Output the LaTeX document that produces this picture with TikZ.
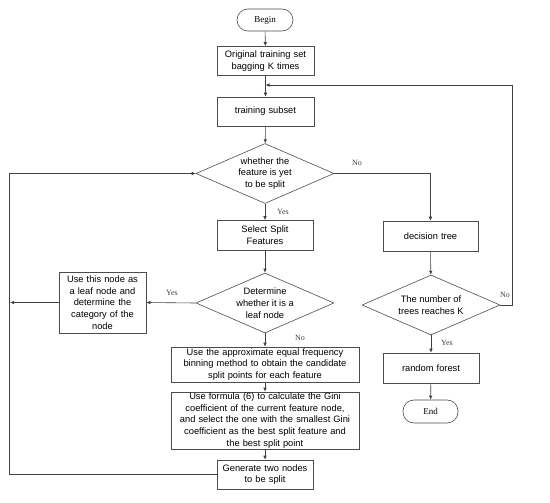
\documentclass[tikz,border=0pt]{standalone}
\usepackage{fontspec}
\setmainfont{Liberation Serif}
\setsansfont{Liberation Sans}
\usetikzlibrary{arrows.meta}
\usetikzlibrary{shapes}

\begin{document}
\begin{tikzpicture}[x=1pt, y=-1pt, semithick,
        box_style/.style={rectangle, draw=black!70, inner sep=0pt, align=center, font=\sffamily\fontsize{9.3}{11.7}\selectfont},
        term_style/.style={rectangle, draw=black!70, rounded corners=11pt, inner sep=0pt, font=\rmfamily\fontsize{9}{10}\selectfont},
        test_style/.style={diamond, draw=black!70, inner sep=0pt, aspect=2.3, minimum width=138pt, minimum height=60pt, align=center, font=\sffamily\fontsize{9.3}{11.7}\selectfont},
        label_style/.style={font=\rmfamily\fontsize{8}{9}\selectfont, text=black!75},
        edge_style/.style={draw=black!75, semithick, -{Latex[length=4pt,width=3.5pt]}}]

        \useasboundingbox (0,0) rectangle (550,503);

        \node [term_style, minimum width=56pt, minimum height=22pt](n_begin) at (265,20) {Begin};
        \node [box_style, text width=97pt, minimum height=29pt](n_orig) at (265.5,61) {Original training set\\bagging K times};
        \node [box_style, text width=97pt, minimum height=29pt](n_subset) at (265.5,111.5) {training subset};
        \node [test_style](n_split) at (265,173.5) {whether the\\feature is yet\\to be split};
        \node [box_style, text width=96pt, minimum height=30pt](n_select) at (265,235.5) {Select Split\\Features};
        \node [test_style](n_leaf_q) at (265,303) {Determine\\whether it is a\\leaf node};
        \node [box_style, text width=87pt, minimum height=61pt](n_leaf) at (102.5,302.5) {Use this node as\\a leaf node and\\determine the\\category of the\\node};
        \node [box_style, text width=188pt, minimum height=35pt](n_bin) at (265,364.5) {Use the approximate equal frequency\\binning method to obtain the candidate\\split points for each feature};
        \node [box_style, text width=188pt, minimum height=57pt](n_gini) at (265,420.5) {Use formula (6) to calculate the Gini\\coefficient of the current feature node,\\and select the one with the smallest Gini\\coefficient as the best split feature and\\the best split point};
        \node [box_style, text width=96pt, minimum height=29pt](n_gen) at (265,474.5) {Generate two nodes\\to be split};
        \node [box_style, text width=95pt, minimum height=30pt](n_tree) at (430.5,236) {decision tree};
        \node [test_style](n_count) at (431,305) {The number of\\trees reaches K};
        \node [box_style, text width=96pt, minimum height=30pt](n_forest) at (431,368) {random forest};
        \node [term_style, minimum width=55pt, minimum height=23pt](n_end) at (430.5,411.5) {End};

        \coordinate (k_join) at (265.5,85);
        \coordinate (r_corner) at (512,85);
        \coordinate (l_corner) at (9,173.5);
        \coordinate (l_join) at (10,302.5);

        \node [label_style](t_no1) at (357,163) {No};
        \node [label_style](t_yes1) at (283,212) {Yes};
        \node [label_style](t_yes2) at (172,293) {Yes};
        \node [label_style](t_no2) at (300,338) {No};
        \node [label_style](t_no3) at (505,295) {No};
        \node [label_style](t_yes3) at (447,343) {Yes};

        \draw [edge_style] (n_begin) -- (n_orig);
        \draw [edge_style] (n_orig) -- (n_subset);
        \draw [edge_style] (n_subset) -- (n_split);
        \draw [edge_style] (n_split) -- (n_select);
        \draw [edge_style] (n_split.east) -| (n_tree.north);
        \draw [edge_style] (n_select) -- (n_leaf_q);
        \draw [edge_style] (n_leaf_q.west) -- (n_leaf.east);
        \draw [edge_style] (n_leaf.west) -- (l_join);
        \draw [edge_style] (n_leaf_q) -- (n_bin);
        \draw [edge_style] (n_bin) -- (n_gini);
        \draw [edge_style] (n_gini) -- (n_gen);
        \draw [edge_style] (n_gen.west) -| (l_corner) -- (n_split.west);
        \draw [edge_style] (n_tree) -- (n_count);
        \draw [edge_style] (n_count.east) -| (r_corner) -- (k_join);
        \draw [edge_style] (n_count) -- (n_forest);
        \draw [edge_style] (n_forest) -- (n_end);
\end{tikzpicture}
\end{document}
